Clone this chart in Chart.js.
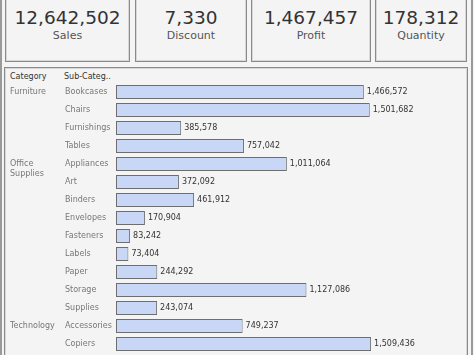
<!DOCTYPE html>
<html>
<head>
<meta charset="utf-8">
<script src="https://cdn.jsdelivr.net/npm/chart.js@4/dist/chart.umd.min.js"></script>
<style>
  html, body { margin:0; padding:0; width:474px; height:355px; overflow:hidden; background:#f4f4f4; font-family:"DejaVu Sans", sans-serif; }
  .outer { position:absolute; left:0; top:-5px; width:473px; height:400px; border-left:2px solid #9a9a9a; border-right:2px solid #9a9a9a; box-sizing:border-box; }
  .kpi { position:absolute; top:-4px; height:66px; box-sizing:border-box; border:1px solid #8a8a8a; box-shadow: inset 0 0 0 1px #d8d8d8; background:#f4f4f4; text-align:center; }
  .kpi .v { position:absolute; left:0; right:0; top:10px; font-size:18.5px; color:#333; line-height:22px; }
  .kpi .l { position:absolute; left:0; right:0; top:32px; font-size:11px; color:#555; line-height:14px; }
  .panel { position:absolute; left:4px; top:67px; width:464px; height:320px; box-sizing:border-box; border:1px solid #8a8a8a; box-shadow: inset 0 0 0 1px #d8d8d8; background:#f4f4f4; }
  .hdr { position:absolute; top:72px; font-size:8px; color:#333; line-height:10px; }
  canvas { position:absolute; left:0; top:75px; }
</style>
</head>
<body>
<div class="outer"></div>
<div id="kpis"></div>
<div class="panel"></div>
<div class="hdr" style="left:10px">Category</div>
<div class="hdr" style="left:64px">Sub-Categ..</div>
<canvas id="c" width="474" height="304"></canvas>
<script>
const kpiValues = ["12,642,502", "7,330", "1,467,457", "178,312"];
const kpiLabels = ["Sales", "Discount", "Profit", "Quantity"];
const kpiBoxes = [[5,125],[135,112],[251,120],[375,92]];

const categories = ["Furniture", "Office Supplies", "Technology"];
const categoryStartRows = ["Bookcases", "Appliances", "Accessories"];
const subCategories = ["Bookcases","Chairs","Furnishings","Tables","Appliances","Art","Binders","Envelopes","Fasteners","Labels","Paper","Storage","Supplies","Accessories","Copiers","Machines"];
const salesValues = [1466572,1501682,385578,757042,1011064,372092,461912,170904,83242,73404,244292,1127086,243074,749237,1509436,779060];

const kc = document.getElementById('kpis');
kpiValues.forEach((v,i)=>{
  const d = document.createElement('div');
  d.className = 'kpi';
  d.style.left = kpiBoxes[i][0] + 'px';
  d.style.width = kpiBoxes[i][1] + 'px';
  d.innerHTML = '<div class="v">'+v+'</div><div class="l">'+kpiLabels[i]+'</div>';
  kc.appendChild(d);
});

Chart.defaults.font.family = "'DejaVu Sans', sans-serif";
Chart.defaults.font.size = 8;

const fmt = n => n.toLocaleString('en-US');

const labelPlugin = {
  id: 'labels',
  afterDatasetsDraw(chart) {
    const ctx = chart.ctx;
    const meta = chart.getDatasetMeta(0);
    ctx.save();
    ctx.font = "8px 'DejaVu Sans', sans-serif";
    ctx.fillStyle = '#333';
    ctx.textAlign = 'left';
    ctx.textBaseline = 'middle';
    meta.data.forEach((el, i) => {
      ctx.fillText(fmt(salesValues[i]), el.x + 3, el.y);
    });
    const ys = chart.scales.y;
    ctx.fillStyle = '#777';
    categories.forEach((c, i) => {
      const y = ys.getPixelForValue(subCategories.indexOf(categoryStartRows[i]));
      const lines = c === 'Office Supplies' ? ['Office', 'Supplies'] : [c];
      lines.forEach((ln, j) => ctx.fillText(ln, 10, y + j * 10));
    });
    ctx.restore();
  }
};

new Chart(document.getElementById('c'), {
  type: 'bar',
  data: {
    labels: subCategories,
    datasets: [{
      data: salesValues,
      backgroundColor: '#c9d7f7',
      borderColor: '#6e6e6e',
      borderWidth: 1,
      borderSkipped: false,
      categoryPercentage: 1,
      barPercentage: 0.78
    }]
  },
  options: {
    indexAxis: 'y',
    responsive: false,
    animation: false,
    devicePixelRatio: 1,
    layout: { padding: { left: 65, right: 20, top: 8, bottom: 8 } },
    plugins: { legend: { display: false }, tooltip: { enabled: false } },
    scales: {
      x: { display: false, min: 0, max: 2000000 },
      y: {
        grid: { display: false },
        border: { display: false },
        ticks: { crossAlign: 'far', color: '#777', font: { size: 8 }, padding: 0 },
        afterFit(scale) { scale.width = 51; }
      }
    }
  },
  plugins: [labelPlugin]
});
</script>
</body>
</html>
